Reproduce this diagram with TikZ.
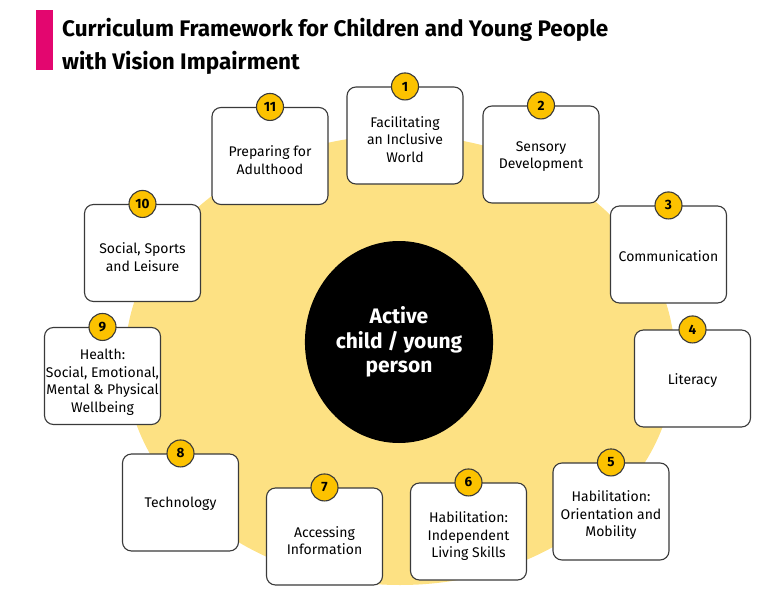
\documentclass[tikz,border=0pt]{standalone}
\usepackage{fontspec}
\setmainfont{Fira Sans}
\usetikzlibrary{shapes.geometric}
\definecolor{pinkbar}{HTML}{E3066F}
\definecolor{softyellow}{HTML}{FDE183}
\definecolor{badgegold}{HTML}{FCC200}
\definecolor{edgegrey}{HTML}{3A3A3A}

\begin{document}
\begin{tikzpicture}[x=1pt, y=-1pt,
    area/.style={draw=edgegrey, line width=1.1pt, fill=white, rounded corners=9pt,
        minimum width=116pt, minimum height=97pt, inner sep=0pt},
    topic/.style={align=center, font=\fontsize{14}{17.5}\selectfont},
    badge/.style={draw=edgegrey, line width=1.1pt, fill=badgegold, circle,
        minimum size=27pt, inner sep=0pt, font=\bfseries\fontsize{13.5}{13.5}\selectfont},
    hub/.style={ellipse, fill=black, text=white, minimum width=188pt, minimum height=202pt,
        align=center, font=\bfseries\fontsize{21}{24.5}\selectfont}]
    \useasboundingbox (0,0) rectangle (780,597);

    % Title
    \fill[pinkbar] (36,10) rectangle (53,70);
    \node[anchor=north west, align=left, inner sep=0pt,
        font=\bfseries\fontsize{22.5}{33}\selectfont] (title) at (62,18)
        {Curriculum Framework for Children and Young People\\with Vision Impairment};

    % Background and centre
    \fill[softyellow] (400,360) ellipse [x radius=275pt, y radius=225pt];
    \node[hub] (hub) at (399,342) {Active\\child / young\\person};

    % Areas of the framework
    \node[area] (a1) at (405,135.5) {};
    \node[area] (a2) at (541,154.5) {};
    \node[area] (a3) at (668.5,254.5) {};
    \node[area] (a4) at (692.5,378.5) {};
    \node[area] (a5) at (611,511.5) {};
    \node[area] (a6) at (468.5,531.5) {};
    \node[area] (a7) at (324.5,536.5) {};
    \node[area] (a8) at (180.5,502.5) {};
    \node[area] (a9) at (102.5,376) {};
    \node[area] (a10) at (142.5,253) {};
    \node[area] (a11) at (270,156) {};

    % Texts
    \node[topic] (t1) at ([yshift=-4pt]a1.center) {Facilitating\\an Inclusive\\World};
    \node[topic] (t2) at ([yshift=-2pt]a2.center) {Sensory\\Development};
    \node[topic] (t3) at ([yshift=-2pt]a3.center) {Communication};
    \node[topic] (t4) at ([yshift=-2pt]a4.center) {Literacy};
    \node[topic] (t5) at ([yshift=-4pt]a5.center) {Habilitation:\\Orientation and\\Mobility};
    \node[topic] (t6) at ([yshift=-5pt]a6.center) {Habilitation:\\Independent\\Living Skills};
    \node[topic] (t7) at ([yshift=-4pt]a7.center) {Accessing\\Information};
    \node[topic] (t8) at ([yshift=-1pt]a8.center) {Technology};
    \node[topic] (t9) at ([yshift=-6pt]a9.center) {Health:\\Social, Emotional,\\Mental \& Physical\\Wellbeing};
    \node[topic] (t10) at ([yshift=-4pt]a10.center) {Social, Sports\\and Leisure};
    \node[topic] (t11) at ([yshift=-4pt]a11.center) {Preparing for\\Adulthood};

    % Numbers
    \node[badge] (n1) at (a1.north) {1};
    \node[badge] (n2) at (a2.north) {2};
    \node[badge] (n3) at (a3.north) {3};
    \node[badge] (n4) at (a4.north) {4};
    \node[badge] (n5) at (a5.north) {5};
    \node[badge] (n6) at (a6.north) {6};
    \node[badge] (n7) at (a7.north) {7};
    \node[badge] (n8) at (a8.north) {8};
    \node[badge] (n9) at (a9.north) {9};
    \node[badge] (n10) at (a10.north) {10};
    \node[badge] (n11) at (a11.north) {11};
\end{tikzpicture}
\end{document}
